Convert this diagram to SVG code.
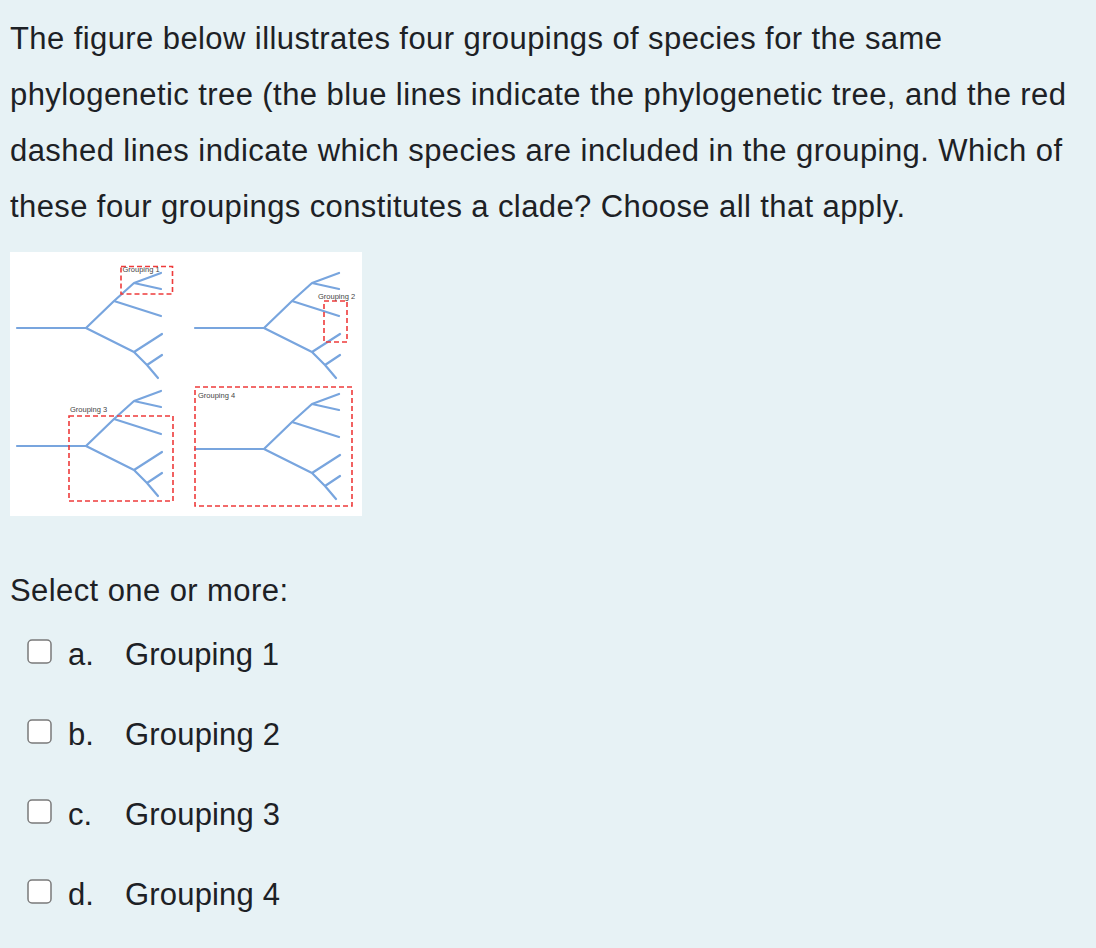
<svg xmlns="http://www.w3.org/2000/svg" width="1096" height="948" viewBox="0 0 1096 948">
<style>
.q{font-family:"Liberation Sans",Arial,Helvetica,sans-serif;font-size:31px;fill:#1d2125}
.lbl{font-family:"Liberation Sans",Arial,sans-serif;font-size:7.5px;fill:#444}
.br{fill:none;stroke:#78a5de;stroke-width:2.2;stroke-linecap:round;stroke-linejoin:round}
.grp{fill:none;stroke:#ee3b3b;stroke-width:1.6;stroke-dasharray:5 3}
.cb{fill:#fff;stroke:#7a7a7a;stroke-width:1.5}
</style>
<defs>
<g id="tree">
<path class="br" d="M17 328H86L114 301L134 283L161 273M134 283L161 289M114 301L161 316M86 328L134 352L162 334M134 352L147 365L162 355M147 365L158 378"/>
</g>
</defs>
<rect width="1096" height="948" fill="#e7f2f5"/>
<g id="question">
<text class="q" x="10" y="49" textLength="932" lengthAdjust="spacing">The figure below illustrates four groupings of species for the same</text>
<text class="q" x="10" y="105" textLength="1056" lengthAdjust="spacing">phylogenetic tree (the blue lines indicate the phylogenetic tree, and the red</text>
<text class="q" x="10" y="161" textLength="1052" lengthAdjust="spacing">dashed lines indicate which species are included in the grouping. Which of</text>
<text class="q" x="10" y="217" textLength="895" lengthAdjust="spacing">these four groupings constitutes a clade? Choose all that apply.</text>
</g>
<g id="figure">
<rect x="10" y="252" width="352" height="264" fill="#fff"/>
<g id="tree1"><use href="#tree"/></g>
<g id="tree2" transform="translate(178,0)"><use href="#tree"/></g>
<g id="tree3" transform="translate(0,118)"><use href="#tree"/></g>
<g id="tree4" transform="translate(178,121)"><use href="#tree"/></g>
<g id="grouping1"><rect class="grp" x="121" y="266.5" width="51.5" height="27.5"/><text class="lbl" x="122.5" y="272">Grouping 1</text></g>
<g id="grouping2"><rect class="grp" x="324" y="301" width="23" height="41"/><text class="lbl" x="318" y="299">Grouping 2</text></g>
<g id="grouping3"><rect class="grp" x="69" y="416" width="104" height="85"/><text class="lbl" x="70" y="412">Grouping 3</text></g>
<g id="grouping4"><rect class="grp" x="195" y="387" width="157" height="119"/><text class="lbl" x="198" y="398">Grouping 4</text></g>
</g>
<g id="answers">
<text class="q" x="10" y="601" textLength="278" lengthAdjust="spacing">Select one or more:</text>
<g id="optA"><rect class="cb" x="28" y="640" width="23" height="23" rx="4"/><text class="q" x="68" y="665">a.</text><text class="q" x="125" y="665" textLength="154" lengthAdjust="spacing">Grouping 1</text></g>
<g id="optB"><rect class="cb" x="28" y="720" width="23" height="23" rx="4"/><text class="q" x="68" y="745">b.</text><text class="q" x="125" y="745" textLength="155" lengthAdjust="spacing">Grouping 2</text></g>
<g id="optC"><rect class="cb" x="28" y="800" width="23" height="23" rx="4"/><text class="q" x="68" y="825">c.</text><text class="q" x="125" y="825" textLength="155" lengthAdjust="spacing">Grouping 3</text></g>
<g id="optD"><rect class="cb" x="28" y="880" width="23" height="23" rx="4"/><text class="q" x="68" y="905">d.</text><text class="q" x="125" y="905" textLength="155" lengthAdjust="spacing">Grouping 4</text></g>
</g>
</svg>
